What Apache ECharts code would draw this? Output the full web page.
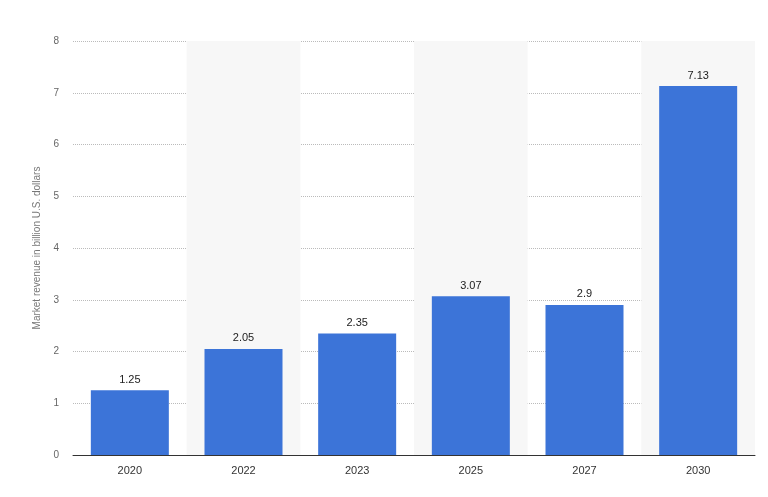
<!DOCTYPE html><html><head><meta charset="utf-8"><script src="https://cdn.jsdelivr.net/npm/echarts@6/dist/echarts.min.js"></script>
<style>html,body{margin:0;background:#fff}#c{width:768px;height:497px}</style></head><body><div id="c"></div><script>
const categories=['2020','2022','2023','2025','2027','2030'];
const values=[1.25,2.05,2.35,3.07,2.9,7.13];
const yTicks={min:0,max:8,interval:1};
const ch=echarts.init(document.getElementById('c'));
ch.setOption({
grid:{left:73,right:13,top:41,bottom:42},
xAxis:{type:'category',data:categories,axisTick:{show:false},axisLine:{lineStyle:{color:'#333'}},
axisLabel:{color:'#333',fontSize:11,fontFamily:'Arial',margin:10},
splitArea:{show:true,areaStyle:{color:['rgba(0,0,0,0)','#f7f7f7']}}},
yAxis:{type:'value',min:yTicks.min,max:yTicks.max,interval:yTicks.interval,
name:'Market revenue in billion U.S. dollars',nameLocation:'middle',nameGap:30,
nameTextStyle:{color:'#777',fontSize:10,fontFamily:'Arial'},
axisLabel:{color:'#666',fontSize:10,fontFamily:'Arial',margin:14},
splitLine:{lineStyle:{type:'dotted',color:'#bbb'}}},
series:[{type:'bar',data:values,barWidth:78,itemStyle:{color:'#3c74d8'},
label:{show:true,position:'top',color:'#222',fontSize:11,fontFamily:'Arial'}}]
});
</script></body></html>
